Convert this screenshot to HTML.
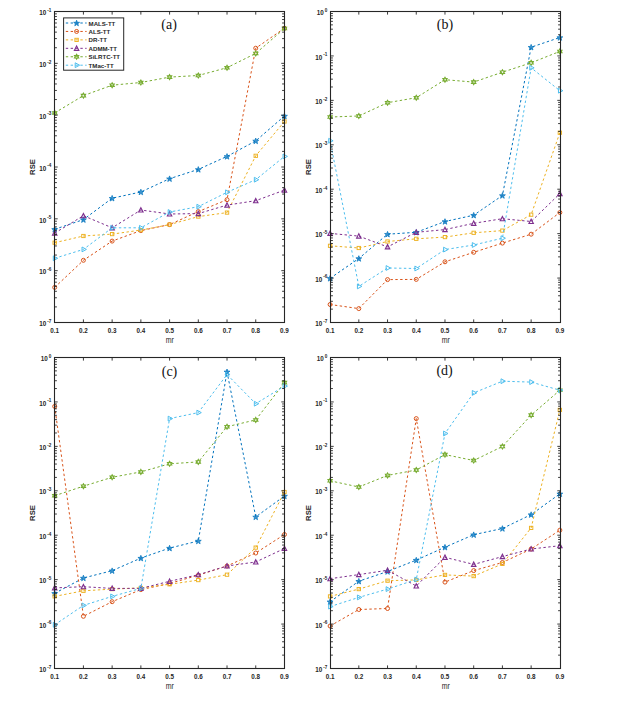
<!DOCTYPE html>
<html><head><meta charset="utf-8"><title>RSE vs mr</title>
<style>html,body{margin:0;padding:0;background:#fff;width:628px;height:702px;overflow:hidden}svg{display:block}</style>
</head><body>
<svg width="628" height="702" viewBox="0 0 628 702">
<style>text{fill:#262626;font-family:"Liberation Sans",Arial,sans-serif;font-weight:bold}.t{font-size:6.3px}.s{font-size:4.6px}.l{font-size:7.5px;font-weight:normal}.g{font-size:6.1px}.ti{font-family:"Liberation Serif","Times New Roman",serif;font-size:14px;fill:#111;font-weight:normal}</style>
<rect width="628" height="702" fill="#fff"/>
<polyline points="54.7,229.3 83.42,219.6 112.14,198.2 140.86,192 169.58,178.7 198.3,169.4 227.02,156.4 255.74,140.9 284.46,116" fill="none" stroke="#0072BD" stroke-width="1.0" stroke-dasharray="2.4 2.45"/>
<polygon points="54.7,226.5 55.46,228.55 57.65,228.64 55.94,230 56.52,232.11 54.7,230.9 52.88,232.11 53.46,230 51.75,228.64 53.94,228.55" fill="#0072BD" fill-opacity="0.75" stroke="#0072BD" stroke-width="0.7" stroke-linejoin="miter"/>
<polygon points="83.42,216.8 84.18,218.85 86.37,218.94 84.66,220.3 85.24,222.41 83.42,221.2 81.6,222.41 82.18,220.3 80.47,218.94 82.66,218.85" fill="#0072BD" fill-opacity="0.75" stroke="#0072BD" stroke-width="0.7" stroke-linejoin="miter"/>
<polygon points="112.14,195.4 112.9,197.45 115.09,197.54 113.38,198.9 113.96,201.01 112.14,199.8 110.32,201.01 110.9,198.9 109.19,197.54 111.38,197.45" fill="#0072BD" fill-opacity="0.75" stroke="#0072BD" stroke-width="0.7" stroke-linejoin="miter"/>
<polygon points="140.86,189.2 141.62,191.25 143.81,191.34 142.1,192.7 142.68,194.81 140.86,193.6 139.04,194.81 139.62,192.7 137.91,191.34 140.1,191.25" fill="#0072BD" fill-opacity="0.75" stroke="#0072BD" stroke-width="0.7" stroke-linejoin="miter"/>
<polygon points="169.58,175.9 170.34,177.95 172.53,178.04 170.82,179.4 171.4,181.51 169.58,180.3 167.76,181.51 168.34,179.4 166.63,178.04 168.82,177.95" fill="#0072BD" fill-opacity="0.75" stroke="#0072BD" stroke-width="0.7" stroke-linejoin="miter"/>
<polygon points="198.3,166.6 199.06,168.65 201.25,168.74 199.54,170.1 200.12,172.21 198.3,171 196.48,172.21 197.06,170.1 195.35,168.74 197.54,168.65" fill="#0072BD" fill-opacity="0.75" stroke="#0072BD" stroke-width="0.7" stroke-linejoin="miter"/>
<polygon points="227.02,153.6 227.78,155.65 229.97,155.74 228.26,157.1 228.84,159.21 227.02,158 225.2,159.21 225.78,157.1 224.07,155.74 226.26,155.65" fill="#0072BD" fill-opacity="0.75" stroke="#0072BD" stroke-width="0.7" stroke-linejoin="miter"/>
<polygon points="255.74,138.1 256.5,140.15 258.69,140.24 256.98,141.6 257.56,143.71 255.74,142.5 253.92,143.71 254.5,141.6 252.79,140.24 254.98,140.15" fill="#0072BD" fill-opacity="0.75" stroke="#0072BD" stroke-width="0.7" stroke-linejoin="miter"/>
<polygon points="284.46,113.2 285.22,115.25 287.41,115.34 285.7,116.7 286.28,118.81 284.46,117.6 282.64,118.81 283.22,116.7 281.51,115.34 283.7,115.25" fill="#0072BD" fill-opacity="0.75" stroke="#0072BD" stroke-width="0.7" stroke-linejoin="miter"/>
<polyline points="54.7,287.4 83.42,260.3 112.14,241.1 140.86,230.6 169.58,224.6 198.3,211.6 227.02,199.7 255.74,48.2 284.46,28.2" fill="none" stroke="#D95319" stroke-width="1.0" stroke-dasharray="2.4 2.45"/>
<circle cx="54.7" cy="287.4" r="2.0" fill="none" stroke="#D95319" stroke-width="1"/>
<circle cx="83.42" cy="260.3" r="2.0" fill="none" stroke="#D95319" stroke-width="1"/>
<circle cx="112.14" cy="241.1" r="2.0" fill="none" stroke="#D95319" stroke-width="1"/>
<circle cx="140.86" cy="230.6" r="2.0" fill="none" stroke="#D95319" stroke-width="1"/>
<circle cx="169.58" cy="224.6" r="2.0" fill="none" stroke="#D95319" stroke-width="1"/>
<circle cx="198.3" cy="211.6" r="2.0" fill="none" stroke="#D95319" stroke-width="1"/>
<circle cx="227.02" cy="199.7" r="2.0" fill="none" stroke="#D95319" stroke-width="1"/>
<circle cx="255.74" cy="48.2" r="2.0" fill="none" stroke="#D95319" stroke-width="1"/>
<circle cx="284.46" cy="28.2" r="2.0" fill="none" stroke="#D95319" stroke-width="1"/>
<polyline points="54.7,242.7 83.42,236 112.14,234.1 140.86,230.1 169.58,224.6 198.3,216.6 227.02,212.6 255.74,155.8 284.46,121.5" fill="none" stroke="#EDB120" stroke-width="1.0" stroke-dasharray="2.4 2.45"/>
<rect x="53" y="241.1" width="3.4" height="3.2" fill="none" stroke="#EDB120" stroke-width="0.95"/>
<rect x="81.72" y="234.4" width="3.4" height="3.2" fill="none" stroke="#EDB120" stroke-width="0.95"/>
<rect x="110.44" y="232.5" width="3.4" height="3.2" fill="none" stroke="#EDB120" stroke-width="0.95"/>
<rect x="139.16" y="228.5" width="3.4" height="3.2" fill="none" stroke="#EDB120" stroke-width="0.95"/>
<rect x="167.88" y="223" width="3.4" height="3.2" fill="none" stroke="#EDB120" stroke-width="0.95"/>
<rect x="196.6" y="215" width="3.4" height="3.2" fill="none" stroke="#EDB120" stroke-width="0.95"/>
<rect x="225.32" y="211" width="3.4" height="3.2" fill="none" stroke="#EDB120" stroke-width="0.95"/>
<rect x="254.04" y="154.2" width="3.4" height="3.2" fill="none" stroke="#EDB120" stroke-width="0.95"/>
<rect x="282.76" y="119.9" width="3.4" height="3.2" fill="none" stroke="#EDB120" stroke-width="0.95"/>
<polyline points="54.7,233.1 83.42,215.7 112.14,227.8 140.86,210 169.58,214 198.3,213.6 227.02,205.1 255.74,200.7 284.46,190.1" fill="none" stroke="#7E2F8E" stroke-width="1.0" stroke-dasharray="2.4 2.45"/>
<polygon points="54.7,230.8 56.9,235.1 52.5,235.1" fill="none" stroke="#7E2F8E" stroke-width="1.15"/>
<polygon points="83.42,213.4 85.62,217.7 81.22,217.7" fill="none" stroke="#7E2F8E" stroke-width="1.15"/>
<polygon points="112.14,225.5 114.34,229.8 109.94,229.8" fill="none" stroke="#7E2F8E" stroke-width="1.15"/>
<polygon points="140.86,207.7 143.06,212 138.66,212" fill="none" stroke="#7E2F8E" stroke-width="1.15"/>
<polygon points="169.58,211.7 171.78,216 167.38,216" fill="none" stroke="#7E2F8E" stroke-width="1.15"/>
<polygon points="198.3,211.3 200.5,215.6 196.1,215.6" fill="none" stroke="#7E2F8E" stroke-width="1.15"/>
<polygon points="227.02,202.8 229.22,207.1 224.82,207.1" fill="none" stroke="#7E2F8E" stroke-width="1.15"/>
<polygon points="255.74,198.4 257.94,202.7 253.54,202.7" fill="none" stroke="#7E2F8E" stroke-width="1.15"/>
<polygon points="284.46,187.8 286.66,192.1 282.26,192.1" fill="none" stroke="#7E2F8E" stroke-width="1.15"/>
<polyline points="54.7,112.9 83.42,95.6 112.14,85.2 140.86,82.5 169.58,77.1 198.3,75.5 227.02,67.7 255.74,53.4 284.46,28.5" fill="none" stroke="#77AC30" stroke-width="1.0" stroke-dasharray="2.4 2.45"/>
<polygon points="54.7,110.5 55.39,111.7 56.78,111.7 56.09,112.9 56.78,114.1 55.39,114.1 54.7,115.3 54.01,114.1 52.62,114.1 53.31,112.9 52.62,111.7 54.01,111.7" fill="none" stroke="#77AC30" stroke-width="1.15"/>
<polygon points="83.42,93.2 84.11,94.4 85.5,94.4 84.81,95.6 85.5,96.8 84.11,96.8 83.42,98 82.73,96.8 81.34,96.8 82.03,95.6 81.34,94.4 82.73,94.4" fill="none" stroke="#77AC30" stroke-width="1.15"/>
<polygon points="112.14,82.8 112.83,84 114.22,84 113.53,85.2 114.22,86.4 112.83,86.4 112.14,87.6 111.45,86.4 110.06,86.4 110.75,85.2 110.06,84 111.45,84" fill="none" stroke="#77AC30" stroke-width="1.15"/>
<polygon points="140.86,80.1 141.55,81.3 142.94,81.3 142.25,82.5 142.94,83.7 141.55,83.7 140.86,84.9 140.17,83.7 138.78,83.7 139.47,82.5 138.78,81.3 140.17,81.3" fill="none" stroke="#77AC30" stroke-width="1.15"/>
<polygon points="169.58,74.7 170.27,75.9 171.66,75.9 170.97,77.1 171.66,78.3 170.27,78.3 169.58,79.5 168.89,78.3 167.5,78.3 168.19,77.1 167.5,75.9 168.89,75.9" fill="none" stroke="#77AC30" stroke-width="1.15"/>
<polygon points="198.3,73.1 198.99,74.3 200.38,74.3 199.69,75.5 200.38,76.7 198.99,76.7 198.3,77.9 197.61,76.7 196.22,76.7 196.91,75.5 196.22,74.3 197.61,74.3" fill="none" stroke="#77AC30" stroke-width="1.15"/>
<polygon points="227.02,65.3 227.71,66.5 229.1,66.5 228.41,67.7 229.1,68.9 227.71,68.9 227.02,70.1 226.33,68.9 224.94,68.9 225.63,67.7 224.94,66.5 226.33,66.5" fill="none" stroke="#77AC30" stroke-width="1.15"/>
<polygon points="255.74,51 256.43,52.2 257.82,52.2 257.13,53.4 257.82,54.6 256.43,54.6 255.74,55.8 255.05,54.6 253.66,54.6 254.35,53.4 253.66,52.2 255.05,52.2" fill="none" stroke="#77AC30" stroke-width="1.15"/>
<polygon points="284.46,26.1 285.15,27.3 286.54,27.3 285.85,28.5 286.54,29.7 285.15,29.7 284.46,30.9 283.77,29.7 282.38,29.7 283.07,28.5 282.38,27.3 283.77,27.3" fill="none" stroke="#77AC30" stroke-width="1.15"/>
<polyline points="54.7,258.3 83.42,249.4 112.14,227.8 140.86,227.8 169.58,212 198.3,206.7 227.02,192.3 255.74,179.7 284.46,156.4" fill="none" stroke="#4DBEEE" stroke-width="1.0" stroke-dasharray="2.4 2.45"/>
<polygon points="57.7,258.3 53.3,255.9 53.3,260.7" fill="none" stroke="#4DBEEE" stroke-width="1"/>
<polygon points="86.42,249.4 82.02,247 82.02,251.8" fill="none" stroke="#4DBEEE" stroke-width="1"/>
<polygon points="115.14,227.8 110.74,225.4 110.74,230.2" fill="none" stroke="#4DBEEE" stroke-width="1"/>
<polygon points="143.86,227.8 139.46,225.4 139.46,230.2" fill="none" stroke="#4DBEEE" stroke-width="1"/>
<polygon points="172.58,212 168.18,209.6 168.18,214.4" fill="none" stroke="#4DBEEE" stroke-width="1"/>
<polygon points="201.3,206.7 196.9,204.3 196.9,209.1" fill="none" stroke="#4DBEEE" stroke-width="1"/>
<polygon points="230.02,192.3 225.62,189.9 225.62,194.7" fill="none" stroke="#4DBEEE" stroke-width="1"/>
<polygon points="258.74,179.7 254.34,177.3 254.34,182.1" fill="none" stroke="#4DBEEE" stroke-width="1"/>
<polygon points="287.46,156.4 283.06,154 283.06,158.8" fill="none" stroke="#4DBEEE" stroke-width="1"/>
<rect x="54.5" y="11.5" width="230" height="311" fill="none" stroke="#262626" stroke-width="1.1"/>
<path d="M83.42 322.5v-3.1M83.42 11.5v3.1M112.14 322.5v-3.1M112.14 11.5v3.1M140.86 322.5v-3.1M140.86 11.5v3.1M169.58 322.5v-3.1M169.58 11.5v3.1M198.3 322.5v-3.1M198.3 11.5v3.1M227.02 322.5v-3.1M227.02 11.5v3.1M255.74 322.5v-3.1M255.74 11.5v3.1M54.5 306.9h2.4M284.5 306.9h-2.4M54.5 297.77h2.4M284.5 297.77h-2.4M54.5 291.29h2.4M284.5 291.29h-2.4M54.5 286.27h2.4M284.5 286.27h-2.4M54.5 282.17h2.4M284.5 282.17h-2.4M54.5 278.7h2.4M284.5 278.7h-2.4M54.5 275.69h2.4M284.5 275.69h-2.4M54.5 273.04h2.4M284.5 273.04h-2.4M54.5 270.67h3.2M284.5 270.67h-3.2M54.5 255.06h2.4M284.5 255.06h-2.4M54.5 245.94h2.4M284.5 245.94h-2.4M54.5 239.46h2.4M284.5 239.46h-2.4M54.5 234.44h2.4M284.5 234.44h-2.4M54.5 230.33h2.4M284.5 230.33h-2.4M54.5 226.86h2.4M284.5 226.86h-2.4M54.5 223.86h2.4M284.5 223.86h-2.4M54.5 221.21h2.4M284.5 221.21h-2.4M54.5 218.83h3.2M284.5 218.83h-3.2M54.5 203.23h2.4M284.5 203.23h-2.4M54.5 194.1h2.4M284.5 194.1h-2.4M54.5 187.63h2.4M284.5 187.63h-2.4M54.5 182.6h2.4M284.5 182.6h-2.4M54.5 178.5h2.4M284.5 178.5h-2.4M54.5 175.03h2.4M284.5 175.03h-2.4M54.5 172.02h2.4M284.5 172.02h-2.4M54.5 169.37h2.4M284.5 169.37h-2.4M54.5 167h3.2M284.5 167h-3.2M54.5 151.4h2.4M284.5 151.4h-2.4M54.5 142.27h2.4M284.5 142.27h-2.4M54.5 135.79h2.4M284.5 135.79h-2.4M54.5 130.77h2.4M284.5 130.77h-2.4M54.5 126.67h2.4M284.5 126.67h-2.4M54.5 123.2h2.4M284.5 123.2h-2.4M54.5 120.19h2.4M284.5 120.19h-2.4M54.5 117.54h2.4M284.5 117.54h-2.4M54.5 115.17h3.2M284.5 115.17h-3.2M54.5 99.56h2.4M284.5 99.56h-2.4M54.5 90.44h2.4M284.5 90.44h-2.4M54.5 83.96h2.4M284.5 83.96h-2.4M54.5 78.94h2.4M284.5 78.94h-2.4M54.5 74.83h2.4M284.5 74.83h-2.4M54.5 71.36h2.4M284.5 71.36h-2.4M54.5 68.36h2.4M284.5 68.36h-2.4M54.5 65.71h2.4M284.5 65.71h-2.4M54.5 63.33h3.2M284.5 63.33h-3.2M54.5 47.73h2.4M284.5 47.73h-2.4M54.5 38.6h2.4M284.5 38.6h-2.4M54.5 32.13h2.4M284.5 32.13h-2.4M54.5 27.1h2.4M284.5 27.1h-2.4M54.5 23h2.4M284.5 23h-2.4M54.5 19.53h2.4M284.5 19.53h-2.4M54.5 16.52h2.4M284.5 16.52h-2.4M54.5 13.87h2.4M284.5 13.87h-2.4" stroke="#262626" stroke-width="0.9" fill="none"/>
<text x="54.7" y="332.8" text-anchor="middle" class="t">0.1</text>
<text x="83.42" y="332.8" text-anchor="middle" class="t">0.2</text>
<text x="112.14" y="332.8" text-anchor="middle" class="t">0.3</text>
<text x="140.86" y="332.8" text-anchor="middle" class="t">0.4</text>
<text x="169.58" y="332.8" text-anchor="middle" class="t">0.5</text>
<text x="198.3" y="332.8" text-anchor="middle" class="t">0.6</text>
<text x="227.02" y="332.8" text-anchor="middle" class="t">0.7</text>
<text x="255.74" y="332.8" text-anchor="middle" class="t">0.8</text>
<text x="284.46" y="332.8" text-anchor="middle" class="t">0.9</text>
<text x="51.4" y="322.8" text-anchor="end" class="s">-7</text>
<text x="46.21" y="326.2" text-anchor="end" class="t">10</text>
<text x="51.4" y="270.97" text-anchor="end" class="s">-6</text>
<text x="46.21" y="274.37" text-anchor="end" class="t">10</text>
<text x="51.4" y="219.13" text-anchor="end" class="s">-5</text>
<text x="46.21" y="222.53" text-anchor="end" class="t">10</text>
<text x="51.4" y="167.3" text-anchor="end" class="s">-4</text>
<text x="46.21" y="170.7" text-anchor="end" class="t">10</text>
<text x="51.4" y="115.47" text-anchor="end" class="s">-3</text>
<text x="46.21" y="118.87" text-anchor="end" class="t">10</text>
<text x="51.4" y="63.63" text-anchor="end" class="s">-2</text>
<text x="46.21" y="67.03" text-anchor="end" class="t">10</text>
<text x="51.4" y="11.8" text-anchor="end" class="s">-1</text>
<text x="46.21" y="15.2" text-anchor="end" class="t">10</text>
<text transform="translate(169.7 342.5) scale(0.93 1.16)" text-anchor="middle" class="l">mr</text>
<text transform="translate(34.7 167) rotate(-90)" text-anchor="middle" class="l" style="font-weight:bold;font-size:7.7px">RSE</text>
<text x="169.1" y="29" text-anchor="middle" class="ti">(a)</text>
<polyline points="330.1,278.3 358.82,258.5 387.54,234.2 416.26,232.3 444.98,221.5 473.7,215.2 502.42,195.5 531.14,47.2 559.86,37.5" fill="none" stroke="#0072BD" stroke-width="1.0" stroke-dasharray="2.4 2.45"/>
<polygon points="330.1,275.5 330.86,277.55 333.05,277.64 331.34,279 331.92,281.11 330.1,279.9 328.28,281.11 328.86,279 327.15,277.64 329.34,277.55" fill="#0072BD" fill-opacity="0.75" stroke="#0072BD" stroke-width="0.7" stroke-linejoin="miter"/>
<polygon points="358.82,255.7 359.58,257.75 361.77,257.84 360.06,259.2 360.64,261.31 358.82,260.1 357,261.31 357.58,259.2 355.87,257.84 358.06,257.75" fill="#0072BD" fill-opacity="0.75" stroke="#0072BD" stroke-width="0.7" stroke-linejoin="miter"/>
<polygon points="387.54,231.4 388.3,233.45 390.49,233.54 388.78,234.9 389.36,237.01 387.54,235.8 385.72,237.01 386.3,234.9 384.59,233.54 386.78,233.45" fill="#0072BD" fill-opacity="0.75" stroke="#0072BD" stroke-width="0.7" stroke-linejoin="miter"/>
<polygon points="416.26,229.5 417.02,231.55 419.21,231.64 417.5,233 418.08,235.11 416.26,233.9 414.44,235.11 415.02,233 413.31,231.64 415.5,231.55" fill="#0072BD" fill-opacity="0.75" stroke="#0072BD" stroke-width="0.7" stroke-linejoin="miter"/>
<polygon points="444.98,218.7 445.74,220.75 447.93,220.84 446.22,222.2 446.8,224.31 444.98,223.1 443.16,224.31 443.74,222.2 442.03,220.84 444.22,220.75" fill="#0072BD" fill-opacity="0.75" stroke="#0072BD" stroke-width="0.7" stroke-linejoin="miter"/>
<polygon points="473.7,212.4 474.46,214.45 476.65,214.54 474.94,215.9 475.52,218.01 473.7,216.8 471.88,218.01 472.46,215.9 470.75,214.54 472.94,214.45" fill="#0072BD" fill-opacity="0.75" stroke="#0072BD" stroke-width="0.7" stroke-linejoin="miter"/>
<polygon points="502.42,192.7 503.18,194.75 505.37,194.84 503.66,196.2 504.24,198.31 502.42,197.1 500.6,198.31 501.18,196.2 499.47,194.84 501.66,194.75" fill="#0072BD" fill-opacity="0.75" stroke="#0072BD" stroke-width="0.7" stroke-linejoin="miter"/>
<polygon points="531.14,44.4 531.9,46.45 534.09,46.54 532.38,47.9 532.96,50.01 531.14,48.8 529.32,50.01 529.9,47.9 528.19,46.54 530.38,46.45" fill="#0072BD" fill-opacity="0.75" stroke="#0072BD" stroke-width="0.7" stroke-linejoin="miter"/>
<polygon points="559.86,34.7 560.62,36.75 562.81,36.84 561.1,38.2 561.68,40.31 559.86,39.1 558.04,40.31 558.62,38.2 556.91,36.84 559.1,36.75" fill="#0072BD" fill-opacity="0.75" stroke="#0072BD" stroke-width="0.7" stroke-linejoin="miter"/>
<polyline points="330.1,304.5 358.82,308.6 387.54,279.6 416.26,279.4 444.98,261.8 473.7,252.3 502.42,243.1 531.14,234.2 559.86,212.5" fill="none" stroke="#D95319" stroke-width="1.0" stroke-dasharray="2.4 2.45"/>
<circle cx="330.1" cy="304.5" r="2.0" fill="none" stroke="#D95319" stroke-width="1"/>
<circle cx="358.82" cy="308.6" r="2.0" fill="none" stroke="#D95319" stroke-width="1"/>
<circle cx="387.54" cy="279.6" r="2.0" fill="none" stroke="#D95319" stroke-width="1"/>
<circle cx="416.26" cy="279.4" r="2.0" fill="none" stroke="#D95319" stroke-width="1"/>
<circle cx="444.98" cy="261.8" r="2.0" fill="none" stroke="#D95319" stroke-width="1"/>
<circle cx="473.7" cy="252.3" r="2.0" fill="none" stroke="#D95319" stroke-width="1"/>
<circle cx="502.42" cy="243.1" r="2.0" fill="none" stroke="#D95319" stroke-width="1"/>
<circle cx="531.14" cy="234.2" r="2.0" fill="none" stroke="#D95319" stroke-width="1"/>
<circle cx="559.86" cy="212.5" r="2.0" fill="none" stroke="#D95319" stroke-width="1"/>
<polyline points="330.1,245.8 358.82,248 387.54,241.5 416.26,238.8 444.98,237.1 473.7,232.8 502.42,230.6 531.14,214.7 559.86,132.7" fill="none" stroke="#EDB120" stroke-width="1.0" stroke-dasharray="2.4 2.45"/>
<rect x="328.4" y="244.2" width="3.4" height="3.2" fill="none" stroke="#EDB120" stroke-width="0.95"/>
<rect x="357.12" y="246.4" width="3.4" height="3.2" fill="none" stroke="#EDB120" stroke-width="0.95"/>
<rect x="385.84" y="239.9" width="3.4" height="3.2" fill="none" stroke="#EDB120" stroke-width="0.95"/>
<rect x="414.56" y="237.2" width="3.4" height="3.2" fill="none" stroke="#EDB120" stroke-width="0.95"/>
<rect x="443.28" y="235.5" width="3.4" height="3.2" fill="none" stroke="#EDB120" stroke-width="0.95"/>
<rect x="472" y="231.2" width="3.4" height="3.2" fill="none" stroke="#EDB120" stroke-width="0.95"/>
<rect x="500.72" y="229" width="3.4" height="3.2" fill="none" stroke="#EDB120" stroke-width="0.95"/>
<rect x="529.44" y="213.1" width="3.4" height="3.2" fill="none" stroke="#EDB120" stroke-width="0.95"/>
<rect x="558.16" y="131.1" width="3.4" height="3.2" fill="none" stroke="#EDB120" stroke-width="0.95"/>
<polyline points="330.1,233.4 358.82,236.1 387.54,246.9 416.26,232.3 444.98,229.6 473.7,223.3 502.42,218.7 531.14,221.5 559.86,193.6" fill="none" stroke="#7E2F8E" stroke-width="1.0" stroke-dasharray="2.4 2.45"/>
<polygon points="330.1,231.1 332.3,235.4 327.9,235.4" fill="none" stroke="#7E2F8E" stroke-width="1.15"/>
<polygon points="358.82,233.8 361.02,238.1 356.62,238.1" fill="none" stroke="#7E2F8E" stroke-width="1.15"/>
<polygon points="387.54,244.6 389.74,248.9 385.34,248.9" fill="none" stroke="#7E2F8E" stroke-width="1.15"/>
<polygon points="416.26,230 418.46,234.3 414.06,234.3" fill="none" stroke="#7E2F8E" stroke-width="1.15"/>
<polygon points="444.98,227.3 447.18,231.6 442.78,231.6" fill="none" stroke="#7E2F8E" stroke-width="1.15"/>
<polygon points="473.7,221 475.9,225.3 471.5,225.3" fill="none" stroke="#7E2F8E" stroke-width="1.15"/>
<polygon points="502.42,216.4 504.62,220.7 500.22,220.7" fill="none" stroke="#7E2F8E" stroke-width="1.15"/>
<polygon points="531.14,219.2 533.34,223.5 528.94,223.5" fill="none" stroke="#7E2F8E" stroke-width="1.15"/>
<polygon points="559.86,191.3 562.06,195.6 557.66,195.6" fill="none" stroke="#7E2F8E" stroke-width="1.15"/>
<polyline points="330.1,117 358.82,116 387.54,102.7 416.26,97.7 444.98,79.7 473.7,82.1 502.42,72.2 531.14,62.8 559.86,51.4" fill="none" stroke="#77AC30" stroke-width="1.0" stroke-dasharray="2.4 2.45"/>
<polygon points="330.1,114.6 330.79,115.8 332.18,115.8 331.49,117 332.18,118.2 330.79,118.2 330.1,119.4 329.41,118.2 328.02,118.2 328.71,117 328.02,115.8 329.41,115.8" fill="none" stroke="#77AC30" stroke-width="1.15"/>
<polygon points="358.82,113.6 359.51,114.8 360.9,114.8 360.21,116 360.9,117.2 359.51,117.2 358.82,118.4 358.13,117.2 356.74,117.2 357.43,116 356.74,114.8 358.13,114.8" fill="none" stroke="#77AC30" stroke-width="1.15"/>
<polygon points="387.54,100.3 388.23,101.5 389.62,101.5 388.93,102.7 389.62,103.9 388.23,103.9 387.54,105.1 386.85,103.9 385.46,103.9 386.15,102.7 385.46,101.5 386.85,101.5" fill="none" stroke="#77AC30" stroke-width="1.15"/>
<polygon points="416.26,95.3 416.95,96.5 418.34,96.5 417.65,97.7 418.34,98.9 416.95,98.9 416.26,100.1 415.57,98.9 414.18,98.9 414.87,97.7 414.18,96.5 415.57,96.5" fill="none" stroke="#77AC30" stroke-width="1.15"/>
<polygon points="444.98,77.3 445.67,78.5 447.06,78.5 446.37,79.7 447.06,80.9 445.67,80.9 444.98,82.1 444.29,80.9 442.9,80.9 443.59,79.7 442.9,78.5 444.29,78.5" fill="none" stroke="#77AC30" stroke-width="1.15"/>
<polygon points="473.7,79.7 474.39,80.9 475.78,80.9 475.09,82.1 475.78,83.3 474.39,83.3 473.7,84.5 473.01,83.3 471.62,83.3 472.31,82.1 471.62,80.9 473.01,80.9" fill="none" stroke="#77AC30" stroke-width="1.15"/>
<polygon points="502.42,69.8 503.11,71 504.5,71 503.81,72.2 504.5,73.4 503.11,73.4 502.42,74.6 501.73,73.4 500.34,73.4 501.03,72.2 500.34,71 501.73,71" fill="none" stroke="#77AC30" stroke-width="1.15"/>
<polygon points="531.14,60.4 531.83,61.6 533.22,61.6 532.53,62.8 533.22,64 531.83,64 531.14,65.2 530.45,64 529.06,64 529.75,62.8 529.06,61.6 530.45,61.6" fill="none" stroke="#77AC30" stroke-width="1.15"/>
<polygon points="559.86,49 560.55,50.2 561.94,50.2 561.25,51.4 561.94,52.6 560.55,52.6 559.86,53.8 559.17,52.6 557.78,52.6 558.47,51.4 557.78,50.2 559.17,50.2" fill="none" stroke="#77AC30" stroke-width="1.15"/>
<polyline points="330.1,140.8 358.82,286.4 387.54,268 416.26,268.5 444.98,249.6 473.7,245 502.42,238.2 531.14,67.8 559.86,90.7" fill="none" stroke="#4DBEEE" stroke-width="1.0" stroke-dasharray="2.4 2.45"/>
<polygon points="333.1,140.8 328.7,138.4 328.7,143.2" fill="none" stroke="#4DBEEE" stroke-width="1"/>
<polygon points="361.82,286.4 357.42,284 357.42,288.8" fill="none" stroke="#4DBEEE" stroke-width="1"/>
<polygon points="390.54,268 386.14,265.6 386.14,270.4" fill="none" stroke="#4DBEEE" stroke-width="1"/>
<polygon points="419.26,268.5 414.86,266.1 414.86,270.9" fill="none" stroke="#4DBEEE" stroke-width="1"/>
<polygon points="447.98,249.6 443.58,247.2 443.58,252" fill="none" stroke="#4DBEEE" stroke-width="1"/>
<polygon points="476.7,245 472.3,242.6 472.3,247.4" fill="none" stroke="#4DBEEE" stroke-width="1"/>
<polygon points="505.42,238.2 501.02,235.8 501.02,240.6" fill="none" stroke="#4DBEEE" stroke-width="1"/>
<polygon points="534.14,67.8 529.74,65.4 529.74,70.2" fill="none" stroke="#4DBEEE" stroke-width="1"/>
<polygon points="562.86,90.7 558.46,88.3 558.46,93.1" fill="none" stroke="#4DBEEE" stroke-width="1"/>
<rect x="330.5" y="11.5" width="230" height="311" fill="none" stroke="#262626" stroke-width="1.1"/>
<path d="M358.82 322.5v-3.1M358.82 11.5v3.1M387.54 322.5v-3.1M387.54 11.5v3.1M416.26 322.5v-3.1M416.26 11.5v3.1M444.98 322.5v-3.1M444.98 11.5v3.1M473.7 322.5v-3.1M473.7 11.5v3.1M502.42 322.5v-3.1M502.42 11.5v3.1M531.14 322.5v-3.1M531.14 11.5v3.1M330.5 309.13h2.4M560.5 309.13h-2.4M330.5 301.3h2.4M560.5 301.3h-2.4M330.5 295.75h2.4M560.5 295.75h-2.4M330.5 291.45h2.4M560.5 291.45h-2.4M330.5 287.93h2.4M560.5 287.93h-2.4M330.5 284.95h2.4M560.5 284.95h-2.4M330.5 282.38h2.4M560.5 282.38h-2.4M330.5 280.1h2.4M560.5 280.1h-2.4M330.5 278.07h3.2M560.5 278.07h-3.2M330.5 264.7h2.4M560.5 264.7h-2.4M330.5 256.87h2.4M560.5 256.87h-2.4M330.5 251.32h2.4M560.5 251.32h-2.4M330.5 247.02h2.4M560.5 247.02h-2.4M330.5 243.5h2.4M560.5 243.5h-2.4M330.5 240.52h2.4M560.5 240.52h-2.4M330.5 237.95h2.4M560.5 237.95h-2.4M330.5 235.68h2.4M560.5 235.68h-2.4M330.5 233.64h3.2M560.5 233.64h-3.2M330.5 220.27h2.4M560.5 220.27h-2.4M330.5 212.45h2.4M560.5 212.45h-2.4M330.5 206.89h2.4M560.5 206.89h-2.4M330.5 202.59h2.4M560.5 202.59h-2.4M330.5 199.07h2.4M560.5 199.07h-2.4M330.5 196.1h2.4M560.5 196.1h-2.4M330.5 193.52h2.4M560.5 193.52h-2.4M330.5 191.25h2.4M560.5 191.25h-2.4M330.5 189.21h3.2M560.5 189.21h-3.2M330.5 175.84h2.4M560.5 175.84h-2.4M330.5 168.02h2.4M560.5 168.02h-2.4M330.5 162.47h2.4M560.5 162.47h-2.4M330.5 158.16h2.4M560.5 158.16h-2.4M330.5 154.64h2.4M560.5 154.64h-2.4M330.5 151.67h2.4M560.5 151.67h-2.4M330.5 149.09h2.4M560.5 149.09h-2.4M330.5 146.82h2.4M560.5 146.82h-2.4M330.5 144.79h3.2M560.5 144.79h-3.2M330.5 131.41h2.4M560.5 131.41h-2.4M330.5 123.59h2.4M560.5 123.59h-2.4M330.5 118.04h2.4M560.5 118.04h-2.4M330.5 113.73h2.4M560.5 113.73h-2.4M330.5 110.21h2.4M560.5 110.21h-2.4M330.5 107.24h2.4M560.5 107.24h-2.4M330.5 104.66h2.4M560.5 104.66h-2.4M330.5 102.39h2.4M560.5 102.39h-2.4M330.5 100.36h3.2M560.5 100.36h-3.2M330.5 86.98h2.4M560.5 86.98h-2.4M330.5 79.16h2.4M560.5 79.16h-2.4M330.5 73.61h2.4M560.5 73.61h-2.4M330.5 69.3h2.4M560.5 69.3h-2.4M330.5 65.78h2.4M560.5 65.78h-2.4M330.5 62.81h2.4M560.5 62.81h-2.4M330.5 60.23h2.4M560.5 60.23h-2.4M330.5 57.96h2.4M560.5 57.96h-2.4M330.5 55.93h3.2M560.5 55.93h-3.2M330.5 42.55h2.4M560.5 42.55h-2.4M330.5 34.73h2.4M560.5 34.73h-2.4M330.5 29.18h2.4M560.5 29.18h-2.4M330.5 24.87h2.4M560.5 24.87h-2.4M330.5 21.36h2.4M560.5 21.36h-2.4M330.5 18.38h2.4M560.5 18.38h-2.4M330.5 15.81h2.4M560.5 15.81h-2.4M330.5 13.53h2.4M560.5 13.53h-2.4" stroke="#262626" stroke-width="0.9" fill="none"/>
<text x="330.1" y="332.8" text-anchor="middle" class="t">0.1</text>
<text x="358.82" y="332.8" text-anchor="middle" class="t">0.2</text>
<text x="387.54" y="332.8" text-anchor="middle" class="t">0.3</text>
<text x="416.26" y="332.8" text-anchor="middle" class="t">0.4</text>
<text x="444.98" y="332.8" text-anchor="middle" class="t">0.5</text>
<text x="473.7" y="332.8" text-anchor="middle" class="t">0.6</text>
<text x="502.42" y="332.8" text-anchor="middle" class="t">0.7</text>
<text x="531.14" y="332.8" text-anchor="middle" class="t">0.8</text>
<text x="559.86" y="332.8" text-anchor="middle" class="t">0.9</text>
<text x="327.4" y="322.8" text-anchor="end" class="s">-7</text>
<text x="322.21" y="326.2" text-anchor="end" class="t">10</text>
<text x="327.4" y="278.37" text-anchor="end" class="s">-6</text>
<text x="322.21" y="281.77" text-anchor="end" class="t">10</text>
<text x="327.4" y="233.94" text-anchor="end" class="s">-5</text>
<text x="322.21" y="237.34" text-anchor="end" class="t">10</text>
<text x="327.4" y="189.51" text-anchor="end" class="s">-4</text>
<text x="322.21" y="192.91" text-anchor="end" class="t">10</text>
<text x="327.4" y="145.09" text-anchor="end" class="s">-3</text>
<text x="322.21" y="148.49" text-anchor="end" class="t">10</text>
<text x="327.4" y="100.66" text-anchor="end" class="s">-2</text>
<text x="322.21" y="104.06" text-anchor="end" class="t">10</text>
<text x="327.4" y="56.23" text-anchor="end" class="s">-1</text>
<text x="322.21" y="59.63" text-anchor="end" class="t">10</text>
<text x="327.4" y="11.8" text-anchor="end" class="s">0</text>
<text x="323.74" y="15.2" text-anchor="end" class="t">10</text>
<text transform="translate(445.7 342.5) scale(0.93 1.16)" text-anchor="middle" class="l">mr</text>
<text transform="translate(310.7 167) rotate(-90)" text-anchor="middle" class="l" style="font-weight:bold;font-size:7.7px">RSE</text>
<text x="444.9" y="28.9" text-anchor="middle" class="ti">(b)</text>
<polyline points="54.7,593.3 83.42,578 112.14,570.7 140.86,558.1 169.58,548.1 198.3,541 227.02,371.8 255.74,516.9 284.46,496" fill="none" stroke="#0072BD" stroke-width="1.0" stroke-dasharray="2.4 2.45"/>
<polygon points="54.7,590.5 55.46,592.55 57.65,592.64 55.94,594 56.52,596.11 54.7,594.9 52.88,596.11 53.46,594 51.75,592.64 53.94,592.55" fill="#0072BD" fill-opacity="0.75" stroke="#0072BD" stroke-width="0.7" stroke-linejoin="miter"/>
<polygon points="83.42,575.2 84.18,577.25 86.37,577.34 84.66,578.7 85.24,580.81 83.42,579.6 81.6,580.81 82.18,578.7 80.47,577.34 82.66,577.25" fill="#0072BD" fill-opacity="0.75" stroke="#0072BD" stroke-width="0.7" stroke-linejoin="miter"/>
<polygon points="112.14,567.9 112.9,569.95 115.09,570.04 113.38,571.4 113.96,573.51 112.14,572.3 110.32,573.51 110.9,571.4 109.19,570.04 111.38,569.95" fill="#0072BD" fill-opacity="0.75" stroke="#0072BD" stroke-width="0.7" stroke-linejoin="miter"/>
<polygon points="140.86,555.3 141.62,557.35 143.81,557.44 142.1,558.8 142.68,560.91 140.86,559.7 139.04,560.91 139.62,558.8 137.91,557.44 140.1,557.35" fill="#0072BD" fill-opacity="0.75" stroke="#0072BD" stroke-width="0.7" stroke-linejoin="miter"/>
<polygon points="169.58,545.3 170.34,547.35 172.53,547.44 170.82,548.8 171.4,550.91 169.58,549.7 167.76,550.91 168.34,548.8 166.63,547.44 168.82,547.35" fill="#0072BD" fill-opacity="0.75" stroke="#0072BD" stroke-width="0.7" stroke-linejoin="miter"/>
<polygon points="198.3,538.2 199.06,540.25 201.25,540.34 199.54,541.7 200.12,543.81 198.3,542.6 196.48,543.81 197.06,541.7 195.35,540.34 197.54,540.25" fill="#0072BD" fill-opacity="0.75" stroke="#0072BD" stroke-width="0.7" stroke-linejoin="miter"/>
<polygon points="227.02,369 227.78,371.05 229.97,371.14 228.26,372.5 228.84,374.61 227.02,373.4 225.2,374.61 225.78,372.5 224.07,371.14 226.26,371.05" fill="#0072BD" fill-opacity="0.75" stroke="#0072BD" stroke-width="0.7" stroke-linejoin="miter"/>
<polygon points="255.74,514.1 256.5,516.15 258.69,516.24 256.98,517.6 257.56,519.71 255.74,518.5 253.92,519.71 254.5,517.6 252.79,516.24 254.98,516.15" fill="#0072BD" fill-opacity="0.75" stroke="#0072BD" stroke-width="0.7" stroke-linejoin="miter"/>
<polygon points="284.46,493.2 285.22,495.25 287.41,495.34 285.7,496.7 286.28,498.81 284.46,497.6 282.64,498.81 283.22,496.7 281.51,495.34 283.7,495.25" fill="#0072BD" fill-opacity="0.75" stroke="#0072BD" stroke-width="0.7" stroke-linejoin="miter"/>
<polyline points="54.7,406.4 83.42,616.3 112.14,601.7 140.86,589.6 169.58,583.5 198.3,575.2 227.02,566 255.74,553 284.46,534.5" fill="none" stroke="#D95319" stroke-width="1.0" stroke-dasharray="2.4 2.45"/>
<circle cx="54.7" cy="406.4" r="2.0" fill="none" stroke="#D95319" stroke-width="1"/>
<circle cx="83.42" cy="616.3" r="2.0" fill="none" stroke="#D95319" stroke-width="1"/>
<circle cx="112.14" cy="601.7" r="2.0" fill="none" stroke="#D95319" stroke-width="1"/>
<circle cx="140.86" cy="589.6" r="2.0" fill="none" stroke="#D95319" stroke-width="1"/>
<circle cx="169.58" cy="583.5" r="2.0" fill="none" stroke="#D95319" stroke-width="1"/>
<circle cx="198.3" cy="575.2" r="2.0" fill="none" stroke="#D95319" stroke-width="1"/>
<circle cx="227.02" cy="566" r="2.0" fill="none" stroke="#D95319" stroke-width="1"/>
<circle cx="255.74" cy="553" r="2.0" fill="none" stroke="#D95319" stroke-width="1"/>
<circle cx="284.46" cy="534.5" r="2.0" fill="none" stroke="#D95319" stroke-width="1"/>
<polyline points="54.7,596.4 83.42,590.8 112.14,589.1 140.86,587.9 169.58,584.3 198.3,580.1 227.02,574.7 255.74,547.6 284.46,492" fill="none" stroke="#EDB120" stroke-width="1.0" stroke-dasharray="2.4 2.45"/>
<rect x="53" y="594.8" width="3.4" height="3.2" fill="none" stroke="#EDB120" stroke-width="0.95"/>
<rect x="81.72" y="589.2" width="3.4" height="3.2" fill="none" stroke="#EDB120" stroke-width="0.95"/>
<rect x="110.44" y="587.5" width="3.4" height="3.2" fill="none" stroke="#EDB120" stroke-width="0.95"/>
<rect x="139.16" y="586.3" width="3.4" height="3.2" fill="none" stroke="#EDB120" stroke-width="0.95"/>
<rect x="167.88" y="582.7" width="3.4" height="3.2" fill="none" stroke="#EDB120" stroke-width="0.95"/>
<rect x="196.6" y="578.5" width="3.4" height="3.2" fill="none" stroke="#EDB120" stroke-width="0.95"/>
<rect x="225.32" y="573.1" width="3.4" height="3.2" fill="none" stroke="#EDB120" stroke-width="0.95"/>
<rect x="254.04" y="546" width="3.4" height="3.2" fill="none" stroke="#EDB120" stroke-width="0.95"/>
<rect x="282.76" y="490.4" width="3.4" height="3.2" fill="none" stroke="#EDB120" stroke-width="0.95"/>
<polyline points="54.7,587.9 83.42,586.7 112.14,588.4 140.86,588.4 169.58,581.3 198.3,574.7 227.02,566 255.74,562 284.46,548.5" fill="none" stroke="#7E2F8E" stroke-width="1.0" stroke-dasharray="2.4 2.45"/>
<polygon points="54.7,585.6 56.9,589.9 52.5,589.9" fill="none" stroke="#7E2F8E" stroke-width="1.15"/>
<polygon points="83.42,584.4 85.62,588.7 81.22,588.7" fill="none" stroke="#7E2F8E" stroke-width="1.15"/>
<polygon points="112.14,586.1 114.34,590.4 109.94,590.4" fill="none" stroke="#7E2F8E" stroke-width="1.15"/>
<polygon points="140.86,586.1 143.06,590.4 138.66,590.4" fill="none" stroke="#7E2F8E" stroke-width="1.15"/>
<polygon points="169.58,579 171.78,583.3 167.38,583.3" fill="none" stroke="#7E2F8E" stroke-width="1.15"/>
<polygon points="198.3,572.4 200.5,576.7 196.1,576.7" fill="none" stroke="#7E2F8E" stroke-width="1.15"/>
<polygon points="227.02,563.7 229.22,568 224.82,568" fill="none" stroke="#7E2F8E" stroke-width="1.15"/>
<polygon points="255.74,559.7 257.94,564 253.54,564" fill="none" stroke="#7E2F8E" stroke-width="1.15"/>
<polygon points="284.46,546.2 286.66,550.5 282.26,550.5" fill="none" stroke="#7E2F8E" stroke-width="1.15"/>
<polyline points="54.7,495.7 83.42,486.2 112.14,477.3 140.86,471.9 169.58,463.8 198.3,461.9 227.02,426.7 255.74,419.9 284.46,382.6" fill="none" stroke="#77AC30" stroke-width="1.0" stroke-dasharray="2.4 2.45"/>
<polygon points="54.7,493.3 55.39,494.5 56.78,494.5 56.09,495.7 56.78,496.9 55.39,496.9 54.7,498.1 54.01,496.9 52.62,496.9 53.31,495.7 52.62,494.5 54.01,494.5" fill="none" stroke="#77AC30" stroke-width="1.15"/>
<polygon points="83.42,483.8 84.11,485 85.5,485 84.81,486.2 85.5,487.4 84.11,487.4 83.42,488.6 82.73,487.4 81.34,487.4 82.03,486.2 81.34,485 82.73,485" fill="none" stroke="#77AC30" stroke-width="1.15"/>
<polygon points="112.14,474.9 112.83,476.1 114.22,476.1 113.53,477.3 114.22,478.5 112.83,478.5 112.14,479.7 111.45,478.5 110.06,478.5 110.75,477.3 110.06,476.1 111.45,476.1" fill="none" stroke="#77AC30" stroke-width="1.15"/>
<polygon points="140.86,469.5 141.55,470.7 142.94,470.7 142.25,471.9 142.94,473.1 141.55,473.1 140.86,474.3 140.17,473.1 138.78,473.1 139.47,471.9 138.78,470.7 140.17,470.7" fill="none" stroke="#77AC30" stroke-width="1.15"/>
<polygon points="169.58,461.4 170.27,462.6 171.66,462.6 170.97,463.8 171.66,465 170.27,465 169.58,466.2 168.89,465 167.5,465 168.19,463.8 167.5,462.6 168.89,462.6" fill="none" stroke="#77AC30" stroke-width="1.15"/>
<polygon points="198.3,459.5 198.99,460.7 200.38,460.7 199.69,461.9 200.38,463.1 198.99,463.1 198.3,464.3 197.61,463.1 196.22,463.1 196.91,461.9 196.22,460.7 197.61,460.7" fill="none" stroke="#77AC30" stroke-width="1.15"/>
<polygon points="227.02,424.3 227.71,425.5 229.1,425.5 228.41,426.7 229.1,427.9 227.71,427.9 227.02,429.1 226.33,427.9 224.94,427.9 225.63,426.7 224.94,425.5 226.33,425.5" fill="none" stroke="#77AC30" stroke-width="1.15"/>
<polygon points="255.74,417.5 256.43,418.7 257.82,418.7 257.13,419.9 257.82,421.1 256.43,421.1 255.74,422.3 255.05,421.1 253.66,421.1 254.35,419.9 253.66,418.7 255.05,418.7" fill="none" stroke="#77AC30" stroke-width="1.15"/>
<polygon points="284.46,380.2 285.15,381.4 286.54,381.4 285.85,382.6 286.54,383.8 285.15,383.8 284.46,385 283.77,383.8 282.38,383.8 283.07,382.6 282.38,381.4 283.77,381.4" fill="none" stroke="#77AC30" stroke-width="1.15"/>
<polyline points="54.7,624.8 83.42,605.4 112.14,596.4 140.86,588.4 169.58,418.6 198.3,412.6 227.02,374.5 255.74,403.7 284.46,386.1" fill="none" stroke="#4DBEEE" stroke-width="1.0" stroke-dasharray="2.4 2.45"/>
<polygon points="57.7,624.8 53.3,622.4 53.3,627.2" fill="none" stroke="#4DBEEE" stroke-width="1"/>
<polygon points="86.42,605.4 82.02,603 82.02,607.8" fill="none" stroke="#4DBEEE" stroke-width="1"/>
<polygon points="115.14,596.4 110.74,594 110.74,598.8" fill="none" stroke="#4DBEEE" stroke-width="1"/>
<polygon points="143.86,588.4 139.46,586 139.46,590.8" fill="none" stroke="#4DBEEE" stroke-width="1"/>
<polygon points="172.58,418.6 168.18,416.2 168.18,421" fill="none" stroke="#4DBEEE" stroke-width="1"/>
<polygon points="201.3,412.6 196.9,410.2 196.9,415" fill="none" stroke="#4DBEEE" stroke-width="1"/>
<polygon points="230.02,374.5 225.62,372.1 225.62,376.9" fill="none" stroke="#4DBEEE" stroke-width="1"/>
<polygon points="258.74,403.7 254.34,401.3 254.34,406.1" fill="none" stroke="#4DBEEE" stroke-width="1"/>
<polygon points="287.46,386.1 283.06,383.7 283.06,388.5" fill="none" stroke="#4DBEEE" stroke-width="1"/>
<rect x="54.5" y="357.5" width="230" height="311" fill="none" stroke="#262626" stroke-width="1.1"/>
<path d="M83.42 668.5v-3.1M83.42 357.5v3.1M112.14 668.5v-3.1M112.14 357.5v3.1M140.86 668.5v-3.1M140.86 357.5v3.1M169.58 668.5v-3.1M169.58 357.5v3.1M198.3 668.5v-3.1M198.3 357.5v3.1M227.02 668.5v-3.1M227.02 357.5v3.1M255.74 668.5v-3.1M255.74 357.5v3.1M54.5 655.13h2.4M284.5 655.13h-2.4M54.5 647.3h2.4M284.5 647.3h-2.4M54.5 641.75h2.4M284.5 641.75h-2.4M54.5 637.45h2.4M284.5 637.45h-2.4M54.5 633.93h2.4M284.5 633.93h-2.4M54.5 630.95h2.4M284.5 630.95h-2.4M54.5 628.38h2.4M284.5 628.38h-2.4M54.5 626.1h2.4M284.5 626.1h-2.4M54.5 624.07h3.2M284.5 624.07h-3.2M54.5 610.7h2.4M284.5 610.7h-2.4M54.5 602.87h2.4M284.5 602.87h-2.4M54.5 597.32h2.4M284.5 597.32h-2.4M54.5 593.02h2.4M284.5 593.02h-2.4M54.5 589.5h2.4M284.5 589.5h-2.4M54.5 586.52h2.4M284.5 586.52h-2.4M54.5 583.95h2.4M284.5 583.95h-2.4M54.5 581.68h2.4M284.5 581.68h-2.4M54.5 579.64h3.2M284.5 579.64h-3.2M54.5 566.27h2.4M284.5 566.27h-2.4M54.5 558.45h2.4M284.5 558.45h-2.4M54.5 552.89h2.4M284.5 552.89h-2.4M54.5 548.59h2.4M284.5 548.59h-2.4M54.5 545.07h2.4M284.5 545.07h-2.4M54.5 542.1h2.4M284.5 542.1h-2.4M54.5 539.52h2.4M284.5 539.52h-2.4M54.5 537.25h2.4M284.5 537.25h-2.4M54.5 535.21h3.2M284.5 535.21h-3.2M54.5 521.84h2.4M284.5 521.84h-2.4M54.5 514.02h2.4M284.5 514.02h-2.4M54.5 508.47h2.4M284.5 508.47h-2.4M54.5 504.16h2.4M284.5 504.16h-2.4M54.5 500.64h2.4M284.5 500.64h-2.4M54.5 497.67h2.4M284.5 497.67h-2.4M54.5 495.09h2.4M284.5 495.09h-2.4M54.5 492.82h2.4M284.5 492.82h-2.4M54.5 490.79h3.2M284.5 490.79h-3.2M54.5 477.41h2.4M284.5 477.41h-2.4M54.5 469.59h2.4M284.5 469.59h-2.4M54.5 464.04h2.4M284.5 464.04h-2.4M54.5 459.73h2.4M284.5 459.73h-2.4M54.5 456.21h2.4M284.5 456.21h-2.4M54.5 453.24h2.4M284.5 453.24h-2.4M54.5 450.66h2.4M284.5 450.66h-2.4M54.5 448.39h2.4M284.5 448.39h-2.4M54.5 446.36h3.2M284.5 446.36h-3.2M54.5 432.98h2.4M284.5 432.98h-2.4M54.5 425.16h2.4M284.5 425.16h-2.4M54.5 419.61h2.4M284.5 419.61h-2.4M54.5 415.3h2.4M284.5 415.3h-2.4M54.5 411.78h2.4M284.5 411.78h-2.4M54.5 408.81h2.4M284.5 408.81h-2.4M54.5 406.23h2.4M284.5 406.23h-2.4M54.5 403.96h2.4M284.5 403.96h-2.4M54.5 401.93h3.2M284.5 401.93h-3.2M54.5 388.55h2.4M284.5 388.55h-2.4M54.5 380.73h2.4M284.5 380.73h-2.4M54.5 375.18h2.4M284.5 375.18h-2.4M54.5 370.87h2.4M284.5 370.87h-2.4M54.5 367.36h2.4M284.5 367.36h-2.4M54.5 364.38h2.4M284.5 364.38h-2.4M54.5 361.81h2.4M284.5 361.81h-2.4M54.5 359.53h2.4M284.5 359.53h-2.4" stroke="#262626" stroke-width="0.9" fill="none"/>
<text x="54.7" y="678.8" text-anchor="middle" class="t">0.1</text>
<text x="83.42" y="678.8" text-anchor="middle" class="t">0.2</text>
<text x="112.14" y="678.8" text-anchor="middle" class="t">0.3</text>
<text x="140.86" y="678.8" text-anchor="middle" class="t">0.4</text>
<text x="169.58" y="678.8" text-anchor="middle" class="t">0.5</text>
<text x="198.3" y="678.8" text-anchor="middle" class="t">0.6</text>
<text x="227.02" y="678.8" text-anchor="middle" class="t">0.7</text>
<text x="255.74" y="678.8" text-anchor="middle" class="t">0.8</text>
<text x="284.46" y="678.8" text-anchor="middle" class="t">0.9</text>
<text x="51.4" y="668.8" text-anchor="end" class="s">-7</text>
<text x="46.21" y="672.2" text-anchor="end" class="t">10</text>
<text x="51.4" y="624.37" text-anchor="end" class="s">-6</text>
<text x="46.21" y="627.77" text-anchor="end" class="t">10</text>
<text x="51.4" y="579.94" text-anchor="end" class="s">-5</text>
<text x="46.21" y="583.34" text-anchor="end" class="t">10</text>
<text x="51.4" y="535.51" text-anchor="end" class="s">-4</text>
<text x="46.21" y="538.91" text-anchor="end" class="t">10</text>
<text x="51.4" y="491.09" text-anchor="end" class="s">-3</text>
<text x="46.21" y="494.49" text-anchor="end" class="t">10</text>
<text x="51.4" y="446.66" text-anchor="end" class="s">-2</text>
<text x="46.21" y="450.06" text-anchor="end" class="t">10</text>
<text x="51.4" y="402.23" text-anchor="end" class="s">-1</text>
<text x="46.21" y="405.63" text-anchor="end" class="t">10</text>
<text x="51.4" y="357.8" text-anchor="end" class="s">0</text>
<text x="47.74" y="361.2" text-anchor="end" class="t">10</text>
<text transform="translate(169.7 688.5) scale(0.93 1.16)" text-anchor="middle" class="l">mr</text>
<text transform="translate(34.7 513) rotate(-90)" text-anchor="middle" class="l" style="font-weight:bold;font-size:7.7px">RSE</text>
<text x="169.5" y="376" text-anchor="middle" class="ti">(c)</text>
<polyline points="330.1,601.7 358.82,581.2 387.54,571.5 416.26,560.1 444.98,547.2 473.7,534.7 502.42,528.5 531.14,514.6 559.86,493.8" fill="none" stroke="#0072BD" stroke-width="1.0" stroke-dasharray="2.4 2.45"/>
<polygon points="330.1,598.9 330.86,600.95 333.05,601.04 331.34,602.4 331.92,604.51 330.1,603.3 328.28,604.51 328.86,602.4 327.15,601.04 329.34,600.95" fill="#0072BD" fill-opacity="0.75" stroke="#0072BD" stroke-width="0.7" stroke-linejoin="miter"/>
<polygon points="358.82,578.4 359.58,580.45 361.77,580.54 360.06,581.9 360.64,584.01 358.82,582.8 357,584.01 357.58,581.9 355.87,580.54 358.06,580.45" fill="#0072BD" fill-opacity="0.75" stroke="#0072BD" stroke-width="0.7" stroke-linejoin="miter"/>
<polygon points="387.54,568.7 388.3,570.75 390.49,570.84 388.78,572.2 389.36,574.31 387.54,573.1 385.72,574.31 386.3,572.2 384.59,570.84 386.78,570.75" fill="#0072BD" fill-opacity="0.75" stroke="#0072BD" stroke-width="0.7" stroke-linejoin="miter"/>
<polygon points="416.26,557.3 417.02,559.35 419.21,559.44 417.5,560.8 418.08,562.91 416.26,561.7 414.44,562.91 415.02,560.8 413.31,559.44 415.5,559.35" fill="#0072BD" fill-opacity="0.75" stroke="#0072BD" stroke-width="0.7" stroke-linejoin="miter"/>
<polygon points="444.98,544.4 445.74,546.45 447.93,546.54 446.22,547.9 446.8,550.01 444.98,548.8 443.16,550.01 443.74,547.9 442.03,546.54 444.22,546.45" fill="#0072BD" fill-opacity="0.75" stroke="#0072BD" stroke-width="0.7" stroke-linejoin="miter"/>
<polygon points="473.7,531.9 474.46,533.95 476.65,534.04 474.94,535.4 475.52,537.51 473.7,536.3 471.88,537.51 472.46,535.4 470.75,534.04 472.94,533.95" fill="#0072BD" fill-opacity="0.75" stroke="#0072BD" stroke-width="0.7" stroke-linejoin="miter"/>
<polygon points="502.42,525.7 503.18,527.75 505.37,527.84 503.66,529.2 504.24,531.31 502.42,530.1 500.6,531.31 501.18,529.2 499.47,527.84 501.66,527.75" fill="#0072BD" fill-opacity="0.75" stroke="#0072BD" stroke-width="0.7" stroke-linejoin="miter"/>
<polygon points="531.14,511.8 531.9,513.85 534.09,513.94 532.38,515.3 532.96,517.41 531.14,516.2 529.32,517.41 529.9,515.3 528.19,513.94 530.38,513.85" fill="#0072BD" fill-opacity="0.75" stroke="#0072BD" stroke-width="0.7" stroke-linejoin="miter"/>
<polygon points="559.86,491 560.62,493.05 562.81,493.14 561.1,494.5 561.68,496.61 559.86,495.4 558.04,496.61 558.62,494.5 556.91,493.14 559.1,493.05" fill="#0072BD" fill-opacity="0.75" stroke="#0072BD" stroke-width="0.7" stroke-linejoin="miter"/>
<polyline points="330.1,626 358.82,609.5 387.54,608.5 416.26,418.6 444.98,582.1 473.7,570.6 502.42,562.5 531.14,549 559.86,530.2" fill="none" stroke="#D95319" stroke-width="1.0" stroke-dasharray="2.4 2.45"/>
<circle cx="330.1" cy="626" r="2.0" fill="none" stroke="#D95319" stroke-width="1"/>
<circle cx="358.82" cy="609.5" r="2.0" fill="none" stroke="#D95319" stroke-width="1"/>
<circle cx="387.54" cy="608.5" r="2.0" fill="none" stroke="#D95319" stroke-width="1"/>
<circle cx="416.26" cy="418.6" r="2.0" fill="none" stroke="#D95319" stroke-width="1"/>
<circle cx="444.98" cy="582.1" r="2.0" fill="none" stroke="#D95319" stroke-width="1"/>
<circle cx="473.7" cy="570.6" r="2.0" fill="none" stroke="#D95319" stroke-width="1"/>
<circle cx="502.42" cy="562.5" r="2.0" fill="none" stroke="#D95319" stroke-width="1"/>
<circle cx="531.14" cy="549" r="2.0" fill="none" stroke="#D95319" stroke-width="1"/>
<circle cx="559.86" cy="530.2" r="2.0" fill="none" stroke="#D95319" stroke-width="1"/>
<polyline points="330.1,596.4 358.82,589.1 387.54,580.7 416.26,579.9 444.98,574.9 473.7,576.1 502.42,563.9 531.14,527.9 559.86,409.9" fill="none" stroke="#EDB120" stroke-width="1.0" stroke-dasharray="2.4 2.45"/>
<rect x="328.4" y="594.8" width="3.4" height="3.2" fill="none" stroke="#EDB120" stroke-width="0.95"/>
<rect x="357.12" y="587.5" width="3.4" height="3.2" fill="none" stroke="#EDB120" stroke-width="0.95"/>
<rect x="385.84" y="579.1" width="3.4" height="3.2" fill="none" stroke="#EDB120" stroke-width="0.95"/>
<rect x="414.56" y="578.3" width="3.4" height="3.2" fill="none" stroke="#EDB120" stroke-width="0.95"/>
<rect x="443.28" y="573.3" width="3.4" height="3.2" fill="none" stroke="#EDB120" stroke-width="0.95"/>
<rect x="472" y="574.5" width="3.4" height="3.2" fill="none" stroke="#EDB120" stroke-width="0.95"/>
<rect x="500.72" y="562.3" width="3.4" height="3.2" fill="none" stroke="#EDB120" stroke-width="0.95"/>
<rect x="529.44" y="526.3" width="3.4" height="3.2" fill="none" stroke="#EDB120" stroke-width="0.95"/>
<rect x="558.16" y="408.3" width="3.4" height="3.2" fill="none" stroke="#EDB120" stroke-width="0.95"/>
<polyline points="330.1,578.7 358.82,574.6 387.54,570.3 416.26,586 444.98,557.3 473.7,564.4 502.42,556.6 531.14,549 559.86,545.7" fill="none" stroke="#7E2F8E" stroke-width="1.0" stroke-dasharray="2.4 2.45"/>
<polygon points="330.1,576.4 332.3,580.7 327.9,580.7" fill="none" stroke="#7E2F8E" stroke-width="1.15"/>
<polygon points="358.82,572.3 361.02,576.6 356.62,576.6" fill="none" stroke="#7E2F8E" stroke-width="1.15"/>
<polygon points="387.54,568 389.74,572.3 385.34,572.3" fill="none" stroke="#7E2F8E" stroke-width="1.15"/>
<polygon points="416.26,583.7 418.46,588 414.06,588" fill="none" stroke="#7E2F8E" stroke-width="1.15"/>
<polygon points="444.98,555 447.18,559.3 442.78,559.3" fill="none" stroke="#7E2F8E" stroke-width="1.15"/>
<polygon points="473.7,562.1 475.9,566.4 471.5,566.4" fill="none" stroke="#7E2F8E" stroke-width="1.15"/>
<polygon points="502.42,554.3 504.62,558.6 500.22,558.6" fill="none" stroke="#7E2F8E" stroke-width="1.15"/>
<polygon points="531.14,546.7 533.34,551 528.94,551" fill="none" stroke="#7E2F8E" stroke-width="1.15"/>
<polygon points="559.86,543.4 562.06,547.7 557.66,547.7" fill="none" stroke="#7E2F8E" stroke-width="1.15"/>
<polyline points="330.1,480.8 358.82,487 387.54,475.4 416.26,470 444.98,454.6 473.7,460.5 502.42,446.5 531.14,415.1 559.86,390.2" fill="none" stroke="#77AC30" stroke-width="1.0" stroke-dasharray="2.4 2.45"/>
<polygon points="330.1,478.4 330.79,479.6 332.18,479.6 331.49,480.8 332.18,482 330.79,482 330.1,483.2 329.41,482 328.02,482 328.71,480.8 328.02,479.6 329.41,479.6" fill="none" stroke="#77AC30" stroke-width="1.15"/>
<polygon points="358.82,484.6 359.51,485.8 360.9,485.8 360.21,487 360.9,488.2 359.51,488.2 358.82,489.4 358.13,488.2 356.74,488.2 357.43,487 356.74,485.8 358.13,485.8" fill="none" stroke="#77AC30" stroke-width="1.15"/>
<polygon points="387.54,473 388.23,474.2 389.62,474.2 388.93,475.4 389.62,476.6 388.23,476.6 387.54,477.8 386.85,476.6 385.46,476.6 386.15,475.4 385.46,474.2 386.85,474.2" fill="none" stroke="#77AC30" stroke-width="1.15"/>
<polygon points="416.26,467.6 416.95,468.8 418.34,468.8 417.65,470 418.34,471.2 416.95,471.2 416.26,472.4 415.57,471.2 414.18,471.2 414.87,470 414.18,468.8 415.57,468.8" fill="none" stroke="#77AC30" stroke-width="1.15"/>
<polygon points="444.98,452.2 445.67,453.4 447.06,453.4 446.37,454.6 447.06,455.8 445.67,455.8 444.98,457 444.29,455.8 442.9,455.8 443.59,454.6 442.9,453.4 444.29,453.4" fill="none" stroke="#77AC30" stroke-width="1.15"/>
<polygon points="473.7,458.1 474.39,459.3 475.78,459.3 475.09,460.5 475.78,461.7 474.39,461.7 473.7,462.9 473.01,461.7 471.62,461.7 472.31,460.5 471.62,459.3 473.01,459.3" fill="none" stroke="#77AC30" stroke-width="1.15"/>
<polygon points="502.42,444.1 503.11,445.3 504.5,445.3 503.81,446.5 504.5,447.7 503.11,447.7 502.42,448.9 501.73,447.7 500.34,447.7 501.03,446.5 500.34,445.3 501.73,445.3" fill="none" stroke="#77AC30" stroke-width="1.15"/>
<polygon points="531.14,412.7 531.83,413.9 533.22,413.9 532.53,415.1 533.22,416.3 531.83,416.3 531.14,417.5 530.45,416.3 529.06,416.3 529.75,415.1 529.06,413.9 530.45,413.9" fill="none" stroke="#77AC30" stroke-width="1.15"/>
<polygon points="559.86,387.8 560.55,389 561.94,389 561.25,390.2 561.94,391.4 560.55,391.4 559.86,392.6 559.17,391.4 557.78,391.4 558.47,390.2 557.78,389 559.17,389" fill="none" stroke="#77AC30" stroke-width="1.15"/>
<polyline points="330.1,606.6 358.82,597.4 387.54,589.1 416.26,579.5 444.98,433.5 473.7,392.9 502.42,381.2 531.14,382.1 559.86,390.2" fill="none" stroke="#4DBEEE" stroke-width="1.0" stroke-dasharray="2.4 2.45"/>
<polygon points="333.1,606.6 328.7,604.2 328.7,609" fill="none" stroke="#4DBEEE" stroke-width="1"/>
<polygon points="361.82,597.4 357.42,595 357.42,599.8" fill="none" stroke="#4DBEEE" stroke-width="1"/>
<polygon points="390.54,589.1 386.14,586.7 386.14,591.5" fill="none" stroke="#4DBEEE" stroke-width="1"/>
<polygon points="419.26,579.5 414.86,577.1 414.86,581.9" fill="none" stroke="#4DBEEE" stroke-width="1"/>
<polygon points="447.98,433.5 443.58,431.1 443.58,435.9" fill="none" stroke="#4DBEEE" stroke-width="1"/>
<polygon points="476.7,392.9 472.3,390.5 472.3,395.3" fill="none" stroke="#4DBEEE" stroke-width="1"/>
<polygon points="505.42,381.2 501.02,378.8 501.02,383.6" fill="none" stroke="#4DBEEE" stroke-width="1"/>
<polygon points="534.14,382.1 529.74,379.7 529.74,384.5" fill="none" stroke="#4DBEEE" stroke-width="1"/>
<polygon points="562.86,390.2 558.46,387.8 558.46,392.6" fill="none" stroke="#4DBEEE" stroke-width="1"/>
<rect x="330.5" y="357.5" width="230" height="311" fill="none" stroke="#262626" stroke-width="1.1"/>
<path d="M358.82 668.5v-3.1M358.82 357.5v3.1M387.54 668.5v-3.1M387.54 357.5v3.1M416.26 668.5v-3.1M416.26 357.5v3.1M444.98 668.5v-3.1M444.98 357.5v3.1M473.7 668.5v-3.1M473.7 357.5v3.1M502.42 668.5v-3.1M502.42 357.5v3.1M531.14 668.5v-3.1M531.14 357.5v3.1M330.5 655.13h2.4M560.5 655.13h-2.4M330.5 647.3h2.4M560.5 647.3h-2.4M330.5 641.75h2.4M560.5 641.75h-2.4M330.5 637.45h2.4M560.5 637.45h-2.4M330.5 633.93h2.4M560.5 633.93h-2.4M330.5 630.95h2.4M560.5 630.95h-2.4M330.5 628.38h2.4M560.5 628.38h-2.4M330.5 626.1h2.4M560.5 626.1h-2.4M330.5 624.07h3.2M560.5 624.07h-3.2M330.5 610.7h2.4M560.5 610.7h-2.4M330.5 602.87h2.4M560.5 602.87h-2.4M330.5 597.32h2.4M560.5 597.32h-2.4M330.5 593.02h2.4M560.5 593.02h-2.4M330.5 589.5h2.4M560.5 589.5h-2.4M330.5 586.52h2.4M560.5 586.52h-2.4M330.5 583.95h2.4M560.5 583.95h-2.4M330.5 581.68h2.4M560.5 581.68h-2.4M330.5 579.64h3.2M560.5 579.64h-3.2M330.5 566.27h2.4M560.5 566.27h-2.4M330.5 558.45h2.4M560.5 558.45h-2.4M330.5 552.89h2.4M560.5 552.89h-2.4M330.5 548.59h2.4M560.5 548.59h-2.4M330.5 545.07h2.4M560.5 545.07h-2.4M330.5 542.1h2.4M560.5 542.1h-2.4M330.5 539.52h2.4M560.5 539.52h-2.4M330.5 537.25h2.4M560.5 537.25h-2.4M330.5 535.21h3.2M560.5 535.21h-3.2M330.5 521.84h2.4M560.5 521.84h-2.4M330.5 514.02h2.4M560.5 514.02h-2.4M330.5 508.47h2.4M560.5 508.47h-2.4M330.5 504.16h2.4M560.5 504.16h-2.4M330.5 500.64h2.4M560.5 500.64h-2.4M330.5 497.67h2.4M560.5 497.67h-2.4M330.5 495.09h2.4M560.5 495.09h-2.4M330.5 492.82h2.4M560.5 492.82h-2.4M330.5 490.79h3.2M560.5 490.79h-3.2M330.5 477.41h2.4M560.5 477.41h-2.4M330.5 469.59h2.4M560.5 469.59h-2.4M330.5 464.04h2.4M560.5 464.04h-2.4M330.5 459.73h2.4M560.5 459.73h-2.4M330.5 456.21h2.4M560.5 456.21h-2.4M330.5 453.24h2.4M560.5 453.24h-2.4M330.5 450.66h2.4M560.5 450.66h-2.4M330.5 448.39h2.4M560.5 448.39h-2.4M330.5 446.36h3.2M560.5 446.36h-3.2M330.5 432.98h2.4M560.5 432.98h-2.4M330.5 425.16h2.4M560.5 425.16h-2.4M330.5 419.61h2.4M560.5 419.61h-2.4M330.5 415.3h2.4M560.5 415.3h-2.4M330.5 411.78h2.4M560.5 411.78h-2.4M330.5 408.81h2.4M560.5 408.81h-2.4M330.5 406.23h2.4M560.5 406.23h-2.4M330.5 403.96h2.4M560.5 403.96h-2.4M330.5 401.93h3.2M560.5 401.93h-3.2M330.5 388.55h2.4M560.5 388.55h-2.4M330.5 380.73h2.4M560.5 380.73h-2.4M330.5 375.18h2.4M560.5 375.18h-2.4M330.5 370.87h2.4M560.5 370.87h-2.4M330.5 367.36h2.4M560.5 367.36h-2.4M330.5 364.38h2.4M560.5 364.38h-2.4M330.5 361.81h2.4M560.5 361.81h-2.4M330.5 359.53h2.4M560.5 359.53h-2.4" stroke="#262626" stroke-width="0.9" fill="none"/>
<text x="330.1" y="678.8" text-anchor="middle" class="t">0.1</text>
<text x="358.82" y="678.8" text-anchor="middle" class="t">0.2</text>
<text x="387.54" y="678.8" text-anchor="middle" class="t">0.3</text>
<text x="416.26" y="678.8" text-anchor="middle" class="t">0.4</text>
<text x="444.98" y="678.8" text-anchor="middle" class="t">0.5</text>
<text x="473.7" y="678.8" text-anchor="middle" class="t">0.6</text>
<text x="502.42" y="678.8" text-anchor="middle" class="t">0.7</text>
<text x="531.14" y="678.8" text-anchor="middle" class="t">0.8</text>
<text x="559.86" y="678.8" text-anchor="middle" class="t">0.9</text>
<text x="327.4" y="668.8" text-anchor="end" class="s">-7</text>
<text x="322.21" y="672.2" text-anchor="end" class="t">10</text>
<text x="327.4" y="624.37" text-anchor="end" class="s">-6</text>
<text x="322.21" y="627.77" text-anchor="end" class="t">10</text>
<text x="327.4" y="579.94" text-anchor="end" class="s">-5</text>
<text x="322.21" y="583.34" text-anchor="end" class="t">10</text>
<text x="327.4" y="535.51" text-anchor="end" class="s">-4</text>
<text x="322.21" y="538.91" text-anchor="end" class="t">10</text>
<text x="327.4" y="491.09" text-anchor="end" class="s">-3</text>
<text x="322.21" y="494.49" text-anchor="end" class="t">10</text>
<text x="327.4" y="446.66" text-anchor="end" class="s">-2</text>
<text x="322.21" y="450.06" text-anchor="end" class="t">10</text>
<text x="327.4" y="402.23" text-anchor="end" class="s">-1</text>
<text x="322.21" y="405.63" text-anchor="end" class="t">10</text>
<text x="327.4" y="357.8" text-anchor="end" class="s">0</text>
<text x="323.74" y="361.2" text-anchor="end" class="t">10</text>
<text transform="translate(445.7 688.5) scale(0.93 1.16)" text-anchor="middle" class="l">mr</text>
<text transform="translate(310.7 513) rotate(-90)" text-anchor="middle" class="l" style="font-weight:bold;font-size:7.7px">RSE</text>
<text x="444.6" y="374.9" text-anchor="middle" class="ti">(d)</text>
<rect x="63.6" y="17.9" width="60.1" height="52.3" fill="#fff" stroke="#262626" stroke-width="1"/>
<line x1="65.8" y1="23" x2="86.6" y2="23" stroke="#0072BD" stroke-width="1.0" stroke-dasharray="2.4 2.45"/>
<polygon points="76.6,20.2 77.36,22.25 79.55,22.34 77.84,23.7 78.42,25.81 76.6,24.6 74.78,25.81 75.36,23.7 73.65,22.34 75.84,22.25" fill="#0072BD" fill-opacity="0.75" stroke="#0072BD" stroke-width="0.7" stroke-linejoin="miter"/>
<text x="88.6" y="25.6" class="g">MALS-TT</text>
<line x1="65.8" y1="31.44" x2="86.6" y2="31.44" stroke="#D95319" stroke-width="1.0" stroke-dasharray="2.4 2.45"/>
<circle cx="76.6" cy="31.44" r="2.0" fill="none" stroke="#D95319" stroke-width="1"/>
<text x="88.6" y="34.04" class="g">ALS-TT</text>
<line x1="65.8" y1="39.88" x2="86.6" y2="39.88" stroke="#EDB120" stroke-width="1.0" stroke-dasharray="2.4 2.45"/>
<rect x="74.9" y="38.28" width="3.4" height="3.2" fill="none" stroke="#EDB120" stroke-width="0.95"/>
<text x="88.6" y="42.48" class="g">DR-TT</text>
<line x1="65.8" y1="48.32" x2="86.6" y2="48.32" stroke="#7E2F8E" stroke-width="1.0" stroke-dasharray="2.4 2.45"/>
<polygon points="76.6,46.02 78.8,50.32 74.4,50.32" fill="none" stroke="#7E2F8E" stroke-width="1.15"/>
<text x="88.6" y="50.92" class="g">ADMM-TT</text>
<line x1="65.8" y1="56.76" x2="86.6" y2="56.76" stroke="#77AC30" stroke-width="1.0" stroke-dasharray="2.4 2.45"/>
<polygon points="76.6,54.36 77.29,55.56 78.68,55.56 77.99,56.76 78.68,57.96 77.29,57.96 76.6,59.16 75.91,57.96 74.52,57.96 75.21,56.76 74.52,55.56 75.91,55.56" fill="none" stroke="#77AC30" stroke-width="1.15"/>
<text x="88.6" y="59.36" class="g">SiLRTC-TT</text>
<line x1="65.8" y1="65.2" x2="86.6" y2="65.2" stroke="#4DBEEE" stroke-width="1.0" stroke-dasharray="2.4 2.45"/>
<polygon points="79.6,65.2 75.2,62.8 75.2,67.6" fill="none" stroke="#4DBEEE" stroke-width="1"/>
<text x="88.6" y="67.8" class="g">TMac-TT</text>
</svg>
</body></html>
